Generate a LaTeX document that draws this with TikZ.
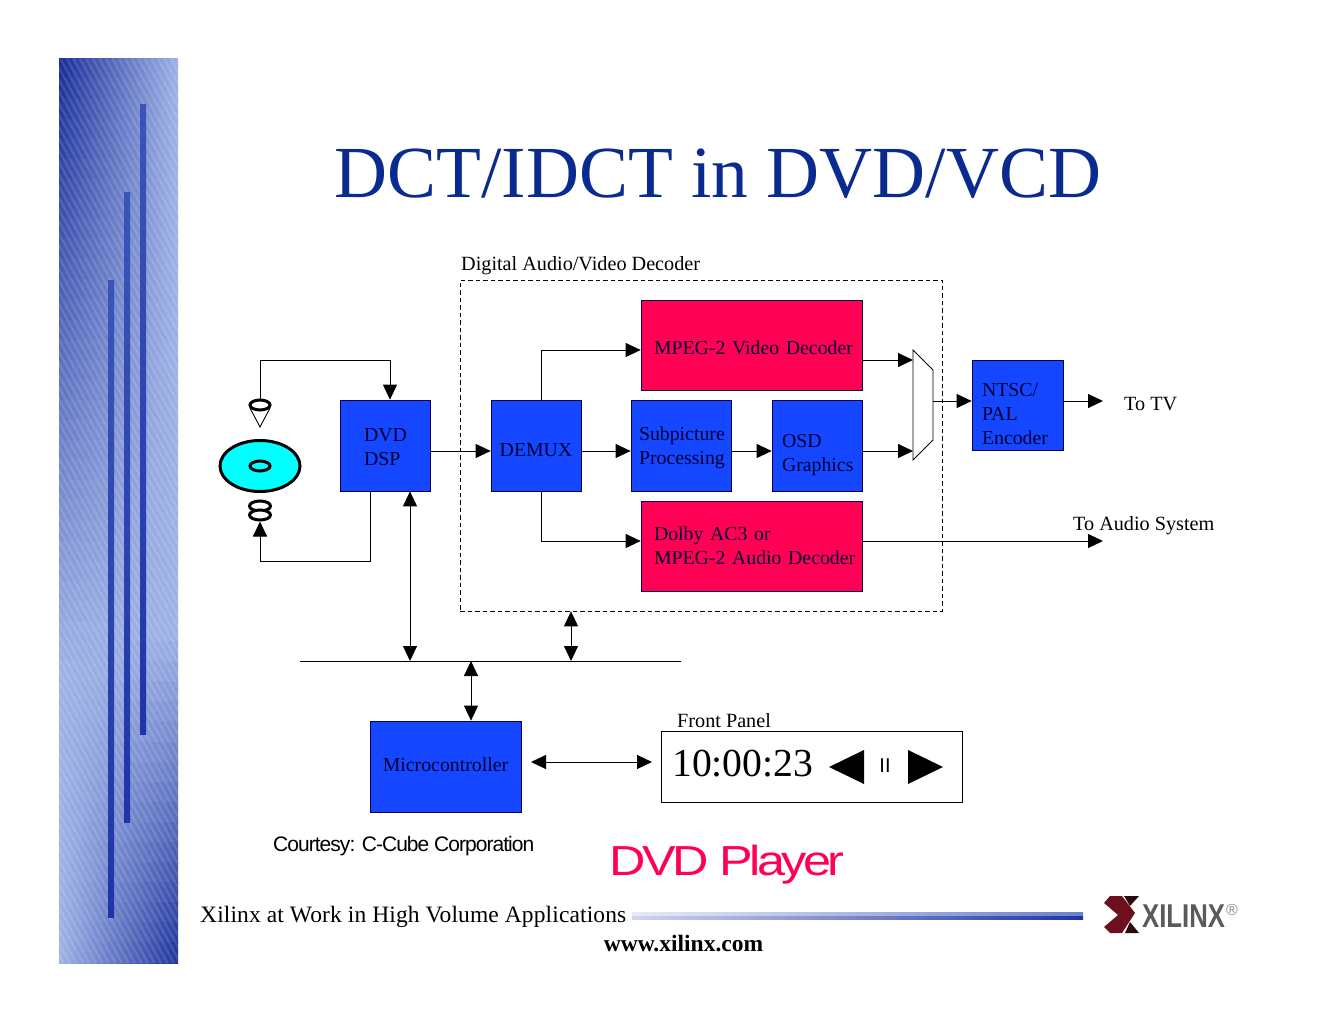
\documentclass[tikz,border=0pt]{standalone}
\usepackage{fontspec}
\setmainfont{Liberation Serif}
\setsansfont{Liberation Sans}
\usetikzlibrary{arrows.meta,calc,shapes.geometric}
\definecolor{boxblue}{HTML}{1447FF}
\definecolor{boxred}{HTML}{FF0055}
\definecolor{titleblue}{HTML}{0B2A90}
\definecolor{barblue}{HTML}{3A55B8}
\definecolor{bardark}{HTML}{1E35A8}
\definecolor{stripdark}{HTML}{1A2F9A}
\definecolor{striplight}{HTML}{9FB2E6}
\definecolor{disccyan}{HTML}{00FFFF}
\definecolor{logored}{HTML}{6E0F1E}
\definecolor{logodark}{HTML}{2A0A10}
\definecolor{logogray}{HTML}{5A5A5A}
\newcommand{\fsz}[1]{\fontsize{#1}{#1}\selectfont}
\newcommand{\shiftit}[2]{\raisebox{#1}[\height][\depth]{#2}}
\newcommand{\il}[1]{\hspace*{#1pt}}
\tikzset{
  x=1pt,y=-1pt,
  tip/.style={-{Triangle[length=15pt,width=14pt]}},
  tiptwo/.style={{Triangle[length=15pt,width=14pt]}-{Triangle[length=15pt,width=14pt]}},
  conn/.style={draw=black,line width=0.9pt},
  block/.style={draw=black!70!blue,line width=0.7pt,inner ysep=0pt,inner xsep=0pt,font=\fsz{19.8},text=black!80!blue,align=left},
  bluebox/.style={block,fill=boxblue},
  redbox/.style={block,fill=boxred},
  lbl/.style={anchor=base west,inner sep=0pt,font=\fsz{20.2},text=black},
  disc/.style={ellipse,draw=black,inner sep=0pt},
}
\begin{document}
\begin{tikzpicture}
\useasboundingbox (0,0) rectangle (1325,1024);
\fill[white] (0,0) rectangle (1325,1024);
% side strip
\begin{scope}
\clip (59,59) rectangle (178,963);
\foreach \i in {0,...,45}{
  \pgfmathsetmacro{\lp}{100*max(0,1-\i/30)}
  \pgfmathsetmacro{\rp}{100*max(0,(\i-28)/17)}
  \pgfmathsetmacro{\ya}{59+\i*20.09}
  \pgfmathsetmacro{\yb}{\ya+21}
  \shade[left color=stripdark!\lp!striplight,right color=stripdark!\rp!striplight] (59,\ya) rectangle (178,\yb);
}
\foreach \i in {0,...,160}
  \draw[white,opacity=.12,line width=2.2pt] (-440+\i*6.5,59) -- (-440+\i*6.5+497,963);
\end{scope}
\shade[top color=barblue,bottom color=bardark] (140,105) rectangle (146,734);
\shade[top color=barblue,bottom color=bardark] (124,193) rectangle (130,822);
\shade[top color=barblue,bottom color=bardark] (108,281) rectangle (114,917);
% title
\node[anchor=base,inner sep=0pt,font=\fsz{73.4},text=titleblue] (title) at (718,198) {DCT/IDCT in DVD/VCD};
% group
\node[draw=black,dash pattern=on 4.5pt off 3pt,line width=0.7pt,minimum width=482pt,minimum height=331pt,inner sep=0pt] (group) at (701,445.5) {};
\node[lbl] (grouplabel) at (461,271) {Digital Audio/Video Decoder};
% boxes
\node[bluebox,text width=90pt,minimum height=91pt] (dsp) at (385,445.5) {\rule{0pt}{16pt}\il{24}DVD\\[4.2pt]\il{24}DSP};
\node[bluebox,minimum width=90pt,minimum height=91pt] (demux) at (536,445.5) {\shiftit{-5pt}{DEMUX}};
\node[redbox,text width=221pt,minimum height=90pt] (mpeg) at (751.5,345) {\il{13}\shiftit{-3pt}{MPEG-2 Video Decoder}};
\node[bluebox,text width=100pt,minimum height=91pt] (sub) at (681,445.5) {\rule{0pt}{18pt}\il{8}Subpicture\\[4.2pt]\il{8}Processing};
\node[bluebox,text width=90pt,minimum height=91pt] (osd) at (817,445.5) {\rule{0pt}{32pt}\il{10}OSD\\[4.2pt]\il{10}Graphics};
\node[redbox,text width=221pt,minimum height=90pt] (dolby) at (751.5,546) {\il{13}Dolby AC3 or\\[4.2pt]\il{13}MPEG-2 Audio Decoder};
\node[bluebox,text width=91pt,minimum height=90pt] (ntsc) at (1017.5,405) {\rule{0pt}{32pt}\il{10}NTSC/\\[4.2pt]\il{10}PAL\\[4.2pt]\il{10}Encoder};
\node[bluebox,minimum width=151pt,minimum height=91pt] (micro) at (445.5,766.5) {\shiftit{1.5pt}{Microcontroller}};
\node[draw=black,line width=0.9pt,minimum width=301pt,minimum height=71pt,inner sep=0pt] (panel) at (811.5,766.5) {};
\node[lbl] (panellabel) at (677,727) {Front Panel};
\node[anchor=base west,inner sep=0pt,font=\fsz{39.7}] (clock) at (672,776) {10:00:23};
\fill (829,767) -- (864,750) -- (864,784) -- cycle;
\fill (943,767) -- (908,750) -- (908,784) -- cycle;
\node[anchor=base,inner sep=0pt,font=\sffamily\fsz{20}] (pause) at (885,772) {II};
% mux
\draw[conn,fill=white] (913,350) -- (933,370) -- (933,440) -- (913,460) -- cycle;
\coordinate (muxa) at (913,360);
\coordinate (muxb) at (913,451);
\coordinate (muxo) at (933,401);
% disc
\node[disc,fill=disccyan,line width=3pt,minimum width=80pt,minimum height=51pt] (platter) at (260,466) {};
\node[disc,line width=3pt,minimum width=20pt,minimum height=10pt] (hub) at (260,466) {};
\draw[line width=0.9pt,fill=white] (250,408) -- (260,427) -- (270,408);
\node[disc,fill=white,line width=3pt,minimum width=20pt,minimum height=10pt] (pickup) at (260,405) {};
\node[disc,fill=white,line width=3pt,minimum width=21pt,minimum height=10pt] (coila) at (260,506) {};
\node[disc,fill=white,line width=3pt,minimum width=21pt,minimum height=10pt] (coilb) at (260,515) {};
% connectors
\draw[conn,tip] (pickup.north) -- (260,360) -- (390,360) -- ([xshift=5pt]dsp.north);
\draw[conn,tip] ([xshift=-15pt]dsp.south) -- (370,561) -- (260,561) -- (coilb.south);
\draw[conn,tip] ([yshift=-5.5pt]dsp.east) -- ([yshift=-5.5pt]demux.west);
\draw[conn,tip] ([xshift=5pt]demux.north) |- ([yshift=-5pt]mpeg.west);
\draw[conn,tip] ([xshift=5pt]demux.south) |- ([yshift=5pt]dolby.west);
\draw[conn,tip] ([yshift=-5.5pt]demux.east) -- ([yshift=-5.5pt]sub.west);
\draw[conn,tip] ([yshift=-5.5pt]sub.east) -- ([yshift=-5.5pt]osd.west);
\draw[conn,tip] ([yshift=-5.5pt]osd.east) -- (muxb);
\draw[conn,tip] ([yshift=-15pt]mpeg.east) -- (muxa);
\draw[conn,tip] (muxo) -- ([yshift=4pt]ntsc.west);
\coordinate (tv) at (1103,401);
\coordinate (audio) at (1103,541);
\draw[conn,tip] ([yshift=4pt]ntsc.east) -- (tv);
\draw[conn,tip] ([yshift=5pt]dolby.east) -- (audio);
\node[lbl] (tvlabel) at (1124,410) {To TV};
\node[lbl] (audiolabel) at (1073,530) {To Audio System};
% bus
\coordinate (busl) at (300,661);
\coordinate (busr) at (681,661);
\draw[conn] (busl) -- (busr);
\coordinate (busa) at (410,661);
\coordinate (busb) at (571,661);
\coordinate (busc) at (471,661);
\draw[conn,tiptwo] ([xshift=25pt]dsp.south) -- (busa);
\draw[conn,tiptwo] (busb |- group.south) -- (busb);
\draw[conn,tiptwo] (busc) -- (busc |- micro.north);
\coordinate (ma) at (531,762);
\coordinate (mb) at (652,762);
\draw[conn,tiptwo] (ma) -- (mb);
% captions
\node[anchor=base west,inner sep=0pt,font=\sffamily\fsz{21}] (court) at (273,851) {\addfontfeatures{LetterSpace=-4.6}Courtesy: C-Cube Corporation};
\node[anchor=base west,inner sep=0pt,font=\sffamily\fsz{42},text=boxred,xscale=1.2] (player) at (609,875) {\addfontfeatures{LetterSpace=-6.9}DVD Player};
\node[anchor=base west,inner sep=0pt,font=\fsz{23.5}] (foot) at (200,922) {\addfontfeatures{LetterSpace=0.5}Xilinx at Work in High Volume Applications};
\shade[left color=barblue!25!white,right color=bardark] (632,915) rectangle (1083,919);
\shade[left color=barblue!12!white,right color=barblue!75!white] (632,912) rectangle (1083,915.5);
\node[anchor=base,inner sep=0pt,font=\bfseries\fsz{23.5}] (web) at (683.5,951) {www.xilinx.com};
% logo
\fill[logored] (1110,896) -- (1122,896) -- (1135,913) -- (1122,933) -- (1110,933) -- (1104,927) -- (1118,915) -- (1104,903) -- cycle;
\fill[logodark] (1124,896) -- (1139,896) -- (1130,906) -- cycle;
\fill[logodark] (1125,933) -- (1139,933) -- (1130,922) -- cycle;
\node[anchor=base west,inner sep=0pt,font=\sffamily\bfseries\fsz{33},text=logogray,xscale=.78] (xil) at (1142,927) {XILINX};
\node[anchor=base west,inner sep=0pt,font=\sffamily\fsz{16},text=logogray!70!white] (reg) at (1226,915) {®};
\end{tikzpicture}
\end{document}
